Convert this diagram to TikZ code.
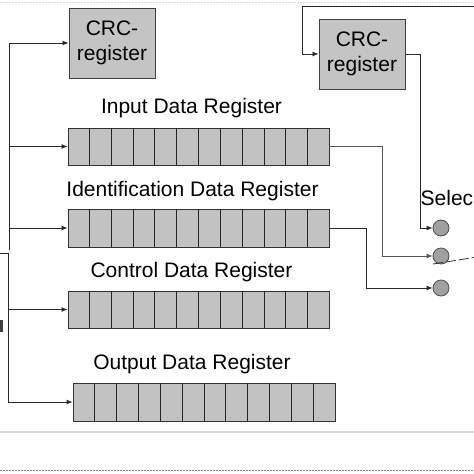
\documentclass[tikz,border=0pt]{standalone}
\usepackage{fontspec}
\setmainfont{Liberation Sans}
\usetikzlibrary{arrows.meta,calc}
\definecolor{cellgray}{HTML}{C2C2C2}
\definecolor{boxgray}{HTML}{C4C4C4}
\definecolor{dotgray}{HTML}{A0A0A0}
\definecolor{linedark}{HTML}{2A2A2A}
\tikzset{
  lbl/.style={anchor=base, inner sep=0pt, font=\fontsize{21}{25}\selectfont},
  crcbox/.style={draw=black!75, fill=boxgray, line width=1pt, minimum width=86pt,
    minimum height=70pt, inner sep=0pt, align=center, font=\fontsize{21}{25}\selectfont},
  regbox/.style={draw=black!80, fill=cellgray, line width=0.9pt, minimum height=37pt,
    inner sep=0pt},
  selnode/.style={circle, draw=black!70, fill=dotgray, minimum size=16pt, inner sep=0pt,
    line width=0.8pt},
  conn/.style={draw=linedark, line width=0.9pt},
  arr/.style={conn, -{Latex[length=6pt,width=5pt]}},
  edge line/.style={draw=black!25, line width=0.6pt, dash pattern=on 1.5pt off 1.5pt},
}
\newcommand{\cells}[1]{%
  \foreach \k in {1,...,11}{%
    \draw[draw=black!85, line width=0.9pt]
      ($(#1.north west)!\k/12!(#1.north east)$) -- ($(#1.south west)!\k/12!(#1.south east)$);}%
}
\begin{document}
\begin{tikzpicture}[x=1pt,y=-1pt]
\useasboundingbox (0,0) rectangle (474,474);
% page edges from the source
\draw[edge line, draw=black!15] (0,2) -- (474,2);
\draw[edge line, draw=black!45] (0,470.5) -- (474,470.5);
\draw[draw=black!15, line width=1.6pt] (0,432) -- (474,432);
\fill[black!75] (0,320) rectangle (3,332);

% CRC registers
\node[crcbox] (crc1) at (112,43) {CRC-\\register};
\node[crcbox] (crc2) at (362,54) {CRC-\\register};

% data registers
\node[lbl] (inlbl) at (191.5,113) {Input Data Register};
\node[regbox, minimum width=261pt] (inreg) at (198.5,146.5) {};
\cells{inreg}
\node[lbl] (idlbl) at (192.5,196) {Identification Data Register};
\node[regbox, minimum width=261pt, minimum height=38pt] (idreg) at (198.5,228) {};
\cells{idreg}
\node[lbl] (ctllbl) at (191.5,277) {Control Data Register};
\node[regbox, minimum width=261pt] (ctlreg) at (198.5,309.5) {};
\cells{ctlreg}
\node[lbl] (outlbl) at (192,369) {Output Data Register};
\node[regbox, minimum width=262pt, minimum height=38pt] (outreg) at (204,402) {};
\cells{outreg}

% selector
\node[lbl, anchor=base west] (sellbl) at (420.5,205) {Selec};
\node[selnode] (s1) at (441,228) {};
\node[selnode] (s2) at (441,256) {};
\node[selnode] (s3) at (441,288) {};

% left bus
\coordinate (busA) at (9,43);
\coordinate (busAend) at (9,250);
\coordinate (busB0) at (0,253);
\coordinate (busB) at (8,253);
\draw[conn] (busA) -- (busAend);
\draw[arr] (busA) -- (crc1.west);
\draw[arr] (busA |- inreg.west) -- (inreg.west);
\draw[arr] (busA |- idreg.west) -- (idreg.west);
\draw[conn] (busB0) -- (busB) -- (busB |- outreg.west);
\draw[arr] (busB |- ctlreg.west) -- (ctlreg.west);
\draw[arr] (busB |- outreg.west) -- (outreg.west);

% right side connectors
\coordinate (topR) at (474,6);
\coordinate (topL) at (302,6);
\draw[arr] (topR) -- (topL) |- (crc2.west);
\coordinate (crcdown) at (420,54);
\draw[arr] (crc2.east) -- (crcdown) |- (s1.west);
\coordinate (indown) at (382,146.5);
\draw[arr, draw=black!65] (inreg.east) -- (indown) |- (s2.west);
\coordinate (iddown) at (366,228);
\draw[arr] (idreg.east) -- (iddown) |- (s3.west);

% switch arm
\coordinate (armA) at (433,264);
\coordinate (armB) at (474,257.5);
\draw[draw=black!80, line width=0.8pt, dash pattern=on 10pt off 3pt] (armA) -- (armB);
\end{tikzpicture}
\end{document}
